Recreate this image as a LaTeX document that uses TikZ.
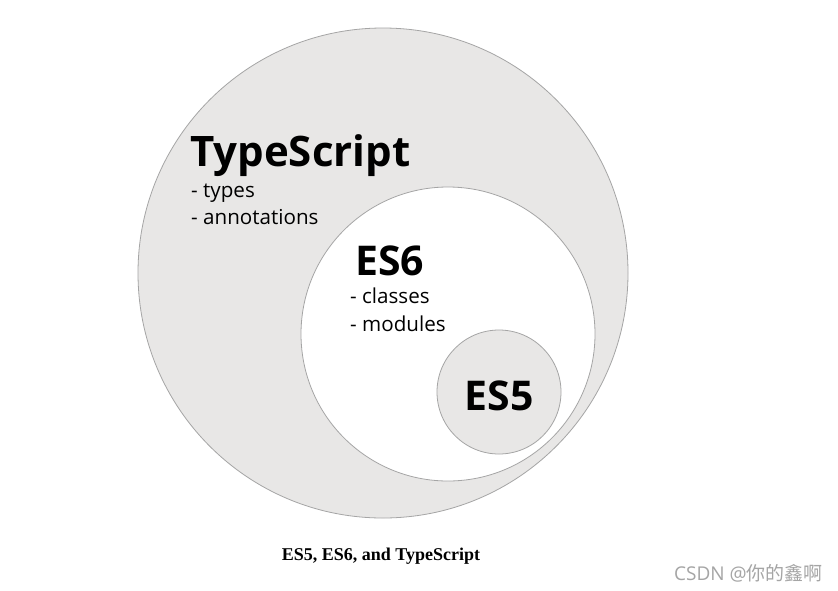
\documentclass[tikz,border=0pt]{standalone}
\usepackage{fontspec}
\setmainfont{Liberation Serif}
\newfontfamily\opensans{Open Sans}
\newfontfamily\cjk{Noto Sans CJK SC}
\usetikzlibrary{positioning}
\definecolor{ringfill}{RGB}{232,231,230}
\definecolor{ringline}{RGB}{165,165,165}
\definecolor{markgrey}{RGB}{165,165,165}
\tikzset{
  ring/.style={draw=ringline, circle, inner sep=0pt, line width=0.8pt},
  title/.style={anchor=base west, inner sep=0pt, font=\opensans\bfseries\fontsize{41}{41}\selectfont},
  item/.style={anchor=base west, inner sep=0pt, font=\opensans\fontsize{20.6}{20.6}\selectfont}
}
\begin{document}
\begin{tikzpicture}[x=1pt, y=-1pt]
\useasboundingbox[fill=white] (0,0) rectangle (838,590);
			\node[ring, fill=ringfill, minimum size=490pt] (ts) at (383,273) {};
			\node[ring, fill=white, minimum size=294pt] (es6) at (448,334) {};
			\node[ring, fill=ringfill, minimum size=124pt] (es5) at (499,392) {};
			
			\node[title, font=\opensans\bfseries\fontsize{42}{42}\selectfont] (tsname) at (190,166) {TypeScript};
			\node[item] (types) at (191,197) {- types};
			\node[item] (annot) at (191,224) {- annotations};
			
			\node[title] (es6name) at (355,275) {ES6};
			\node[item] (classes) at (350,303) {- classes};
			\node[item] (modules) at (350,331) {- modules};
			
			\node[title, anchor=base] (es5name) at (499,410) {ES5};
			
			\node[anchor=base, inner sep=0pt, font=\bfseries\fontsize{18}{18}\selectfont] (caption) at (381,560) {ES5, ES6, and TypeScript};
			\node[anchor=base east, inner sep=0pt, text=markgrey, font=\opensans\fontsize{19}{19}\selectfont] (mark) at (823,580) {CSDN @{\cjk 你的鑫啊}};
\end{tikzpicture}
\end{document}
